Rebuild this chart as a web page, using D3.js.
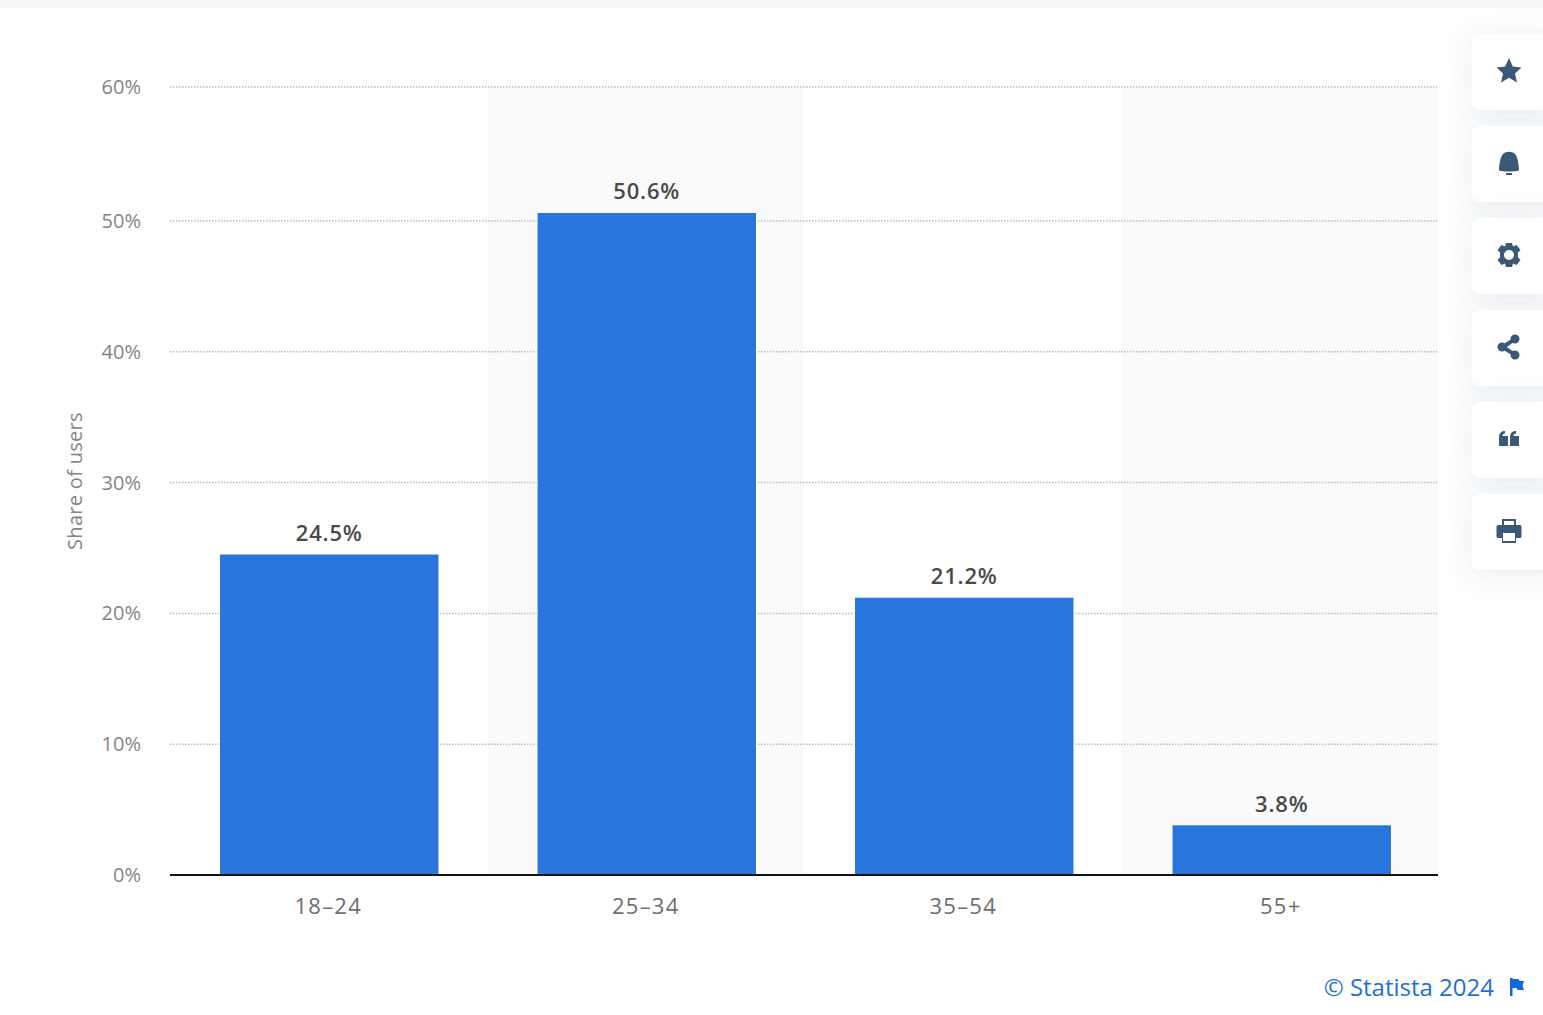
<!DOCTYPE html>
<html>
<head>
<meta charset="utf-8">
<script src="https://cdn.jsdelivr.net/npm/d3@7"></script>
<style>
  html, body { margin: 0; padding: 0; background: #fff; }
  text { font-family: "Open Sans", sans-serif; }
</style>
</head>
<body>
<svg id="wrapper" width="1543" height="1015"></svg>
<script>
const categories = ['18-24', '25-34', '35-54', '55+']
const shares = [24.5, 50.6, 21.2, 3.8]
const valueLabels = ['24.5%', '50.6%', '21.2%', '3.8%']
const yTicks = [0, 10, 20, 30, 40, 50, 60]

const svg = d3.select('#wrapper')

svg.append('defs').append('filter')
    .attr('id', 'soft')
    .attr('x', '-60%').attr('y', '-60%')
    .attr('width', '220%').attr('height', '220%')
    .append('feDropShadow')
    .attr('dx', 0).attr('dy', 4)
    .attr('stdDeviation', 14)
    .attr('flood-color', '#4a6a8a')
    .attr('flood-opacity', 0.12)

// strip at the very top of the page
svg.append('rect')
    .attr('width', 1543).attr('height', 8)
    .attr('fill', '#f7f8f9')

const x = d3.scaleBand()
    .domain(categories)
    .range([170.5, 1440.5])
    .paddingInner(0.312)
    .paddingOuter(0.156)

const outer = d3.scaleBand()
    .domain(categories)
    .range([170, 1438])

// top tick sits a little further up than the rest
const y = d3.scaleLinear()
    .domain([0, 50, 60])
    .range([875, 221, 87])

// alternating column bands
svg.selectAll('.band')
    .data(categories.filter((d, i) => i % 2 == 1))
    .join('rect')
    .attr('class', 'band')
    .attr('x', d => outer(d) + 1)
    .attr('y', y(60) + 1)
    .attr('width', outer.bandwidth() - 1)
    .attr('height', y(0) - y(60) - 1)
    .attr('fill', '#fafafa')

const yAxis = svg.append('g')
    .attr('transform', 'translate(170,0)')
    .call(d3.axisLeft(y).tickValues(yTicks).tickFormat(d => d + '%').tickSize(0).tickPadding(29))

yAxis.select('.domain').remove()
yAxis.selectAll('text')
    .attr('font-size', 20)
    .attr('fill', '#858585')
    .style('font-family', '"Open Sans", sans-serif')

svg.selectAll('.grid')
    .data(yTicks.filter(d => d > 0))
    .join('line')
    .attr('class', 'grid')
    .attr('x1', 170).attr('x2', 1437)
    .attr('y1', d => y(d)).attr('y2', d => y(d))
    .attr('stroke', '#bcbcbc')
    .attr('stroke-width', 1.5)
    .attr('stroke-dasharray', '1.5 1.5')

svg.selectAll('.bar')
    .data(shares)
    .join('rect')
    .attr('class', 'bar')
    .attr('x', (d, i) => x(categories[i]))
    .attr('y', d => y(d))
    .attr('width', x.bandwidth())
    .attr('height', d => y(0) - y(d))
    .attr('fill', '#2775dd')
    .attr('stroke', '#fff')
    .attr('stroke-width', 2)
    .attr('paint-order', 'stroke')

svg.selectAll('.value')
    .data(shares)
    .join('text')
    .attr('class', 'value')
    .attr('x', (d, i) => x(categories[i]) + x.bandwidth() / 2)
    .attr('y', d => y(d) - 13.5)
    .attr('text-anchor', 'middle')
    .attr('font-size', 22)
    .attr('font-weight', 600)
    .attr('letter-spacing', 0.8)
    .attr('fill', '#4a4a4a')
    .text((d, i) => valueLabels[i])

const xAxis = svg.append('g')
    .attr('transform', 'translate(-1,875)')
    .call(d3.axisBottom(x).tickSize(0).tickPadding(23).tickFormat(d => d.replace('-', '\u2013')))

xAxis.select('.domain').remove()
xAxis.selectAll('text')
    .attr('font-size', 22)
    .attr('fill', '#6e6e6e')
    .attr('letter-spacing', 1.2)
    .style('font-family', '"Open Sans", sans-serif')

svg.append('line')
    .attr('x1', 170).attr('x2', 1438)
    .attr('y1', y(0)).attr('y2', y(0))
    .attr('stroke', '#111')
    .attr('stroke-width', 2)

svg.append('text')
    .attr('transform', 'translate(82,481) rotate(-90)')
    .attr('text-anchor', 'middle')
    .attr('font-size', 20)
    .attr('letter-spacing', 0.3)
    .attr('fill', '#858585')
    .text('Share of users')

svg.append('text')
    .attr('x', 1494).attr('y', 996)
    .attr('text-anchor', 'end')
    .attr('font-size', 24)
    .attr('fill', '#1f6fd6')
    .text('\u00a9 Statista 2024')

// little flag beside the credit
svg.append('path')
    .attr('transform', 'translate(1510,978)')
    .attr('d', 'M0 0h2.500v18h-2.500z M2.500 1h6l1 2h4.500l-1.500 4.500 1.500 4.500h-6.500l-1-2h-4.500z')
    .attr('fill', '#0f69dd')

// side toolbar
const toolbarIcons = [
    'M0-13 3.800-4.400 12.500-3.600 6 2.400 8 11.500 0 6.800-8 11.500-6 2.400-12.500-3.600-3.800-4.400Z',
    'M-10 7C-10 4-9-6-6-9C-3-12 3-12 6-9C9-6 10 4 10 7C10 9-10 9-10 7Z M-3 10H3V12H-3Z',
    'M-3-12H3L4-8.500 7.500-10 11.500-5 9-2.500V2.500L11.500 5 7.500 10 4 8.500 3 12H-3L-4 8.500-7.500 10-11.500 5-9 2.500V-2.500L-11.500-5-7.500-10-4-8.500Z M0-5A5 5 0 1 0 0 5A5 5 0 1 0 0-5Z',
    'M6-12.500A4.500 4.500 0 1 1 6-3.500A4.500 4.500 0 1 1 6-12.500Z M-7-4.500A4.500 4.500 0 1 1-7 4.500A4.500 4.500 0 1 1-7-4.500Z M6 3.500A4.500 4.500 0 1 1 6 12.500A4.500 4.500 0 1 1 6 3.500Z M-7-2 5-9.500 7-6.500-5 2Z M-5-2 7 6.500 5 9.500-7 2Z',
    'M-10-1C-10-6-8-8-4-8V-5.500C-6-5.500-6.500-4-6.500-3H-1V7H-10Z M1-1C1-6 3-8 7-8V-5.500C5-5.500 4.500-4 4.500-3H10V7H1Z',
    'M-7-12H7V-6H11C12-6 12.500-5 12.500-4V5C12.500 6 12 7 11 7H7V12H-7V7H-11C-12 7-12.500 6-12.500 5V-4C-12.500-5-12-6-11-6H-7Z M-5-10V-6H5V-10Z M-6 2V10H6V2Z'
]

const buttons = svg.selectAll('.tool')
    .data(toolbarIcons)
    .join('g')
    .attr('class', 'tool')
    .attr('transform', (d, i) => `translate(1472,${34 + i * 92})`)

buttons.append('rect')
    .attr('width', 90).attr('height', 76).attr('rx', 8)
    .attr('fill', '#fff')
    .attr('filter', 'url(#soft)')

buttons.append('path')
    .attr('transform', 'translate(37,37)')
    .attr('d', d => d)
    .attr('fill', '#3b5878')
    .attr('fill-rule', (d, i) => i == 3 ? 'nonzero' : 'evenodd')
</script>
</body>
</html>
